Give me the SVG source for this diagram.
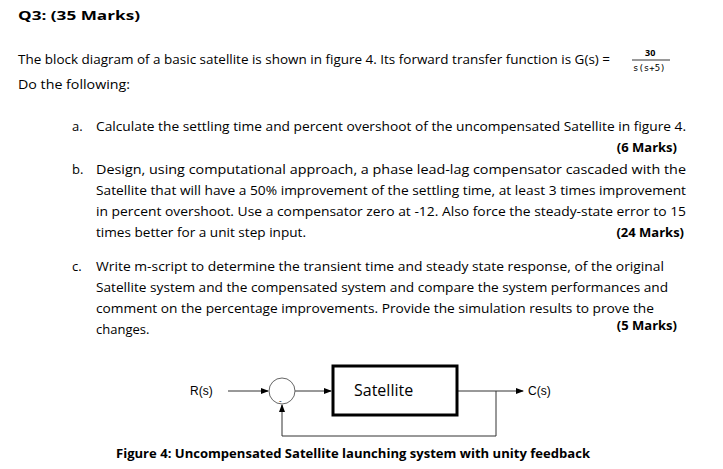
<svg xmlns="http://www.w3.org/2000/svg" width="723" height="469" viewBox="0 0 723 469">
<defs><style>
text{font-family:"Open Sans","Liberation Sans",sans-serif;font-size:13px;fill:#000}
.b{font-weight:bold}
.r{text-anchor:end;font-weight:bold}
.d{font-family:"Liberation Sans",Arial,sans-serif;font-size:12px}
.ln{stroke:#333;stroke-width:1;fill:none}
</style>
<marker id="ar" markerWidth="8" markerHeight="6" refX="7" refY="3" orient="auto" markerUnits="userSpaceOnUse"><path d="M0,0 L8,3 L0,6 z" fill="#000"/></marker>
</defs>
<rect width="723" height="469" fill="#fff"/>
<text x="18" y="20" class="b" textLength="122" lengthAdjust="spacingAndGlyphs">Q3:  (35 Marks)</text>
<text x="18" y="64" textLength="592" lengthAdjust="spacingAndGlyphs">The block diagram of a basic satellite is shown in figure 4. Its forward transfer function is G(s) =</text>
<text x="645" y="56" style="font-size:9px" class="b">30</text>
<line x1="632" y1="60" x2="670" y2="60" stroke="#000" stroke-width="0.8"/>
<text x="633" y="71" style="font-size:9px;font-family:'DejaVu Sans Mono',monospace">s(s+5)</text>
<text x="18" y="89" textLength="112" lengthAdjust="spacingAndGlyphs">Do the following:</text>
<text x="72" y="131">a.</text>
<text x="96" y="131" textLength="590" lengthAdjust="spacingAndGlyphs">Calculate the settling time and percent overshoot of the uncompensated Satellite in figure 4.</text>
<text x="677" y="152" class="r">(6 Marks)</text>
<text x="72" y="174">b.</text>
<text x="96" y="174" textLength="590" lengthAdjust="spacingAndGlyphs">Design, using computational approach, a phase lead-lag compensator cascaded with the</text>
<text x="96" y="195" textLength="590" lengthAdjust="spacingAndGlyphs">Satellite that will have a 50% improvement of the settling time, at least 3 times improvement</text>
<text x="96" y="216" textLength="590" lengthAdjust="spacingAndGlyphs">in percent overshoot. Use a compensator zero at -12.  Also force the steady-state error to 15</text>
<text x="96" y="237" textLength="210" lengthAdjust="spacingAndGlyphs">times better for a unit step input.</text>
<text x="684" y="237" class="r">(24 Marks)</text>
<text x="72" y="271">c.</text>
<text x="96" y="271" textLength="568" lengthAdjust="spacingAndGlyphs">Write m-script to determine the transient time and steady state response, of the original</text>
<text x="96" y="292" textLength="572" lengthAdjust="spacingAndGlyphs">Satellite system and the compensated system and compare the system performances and</text>
<text x="96" y="313" textLength="558" lengthAdjust="spacingAndGlyphs">comment on the percentage improvements. Provide the simulation results to prove the</text>
<text x="96" y="334">changes.</text>
<text x="677" y="330" class="r">(5 Marks)</text>
<g id="connectors">
<line x1="228" y1="391" x2="268" y2="391" class="ln" marker-end="url(#ar)"/>
<line x1="295" y1="391" x2="331" y2="391" class="ln" marker-end="url(#ar)"/>
<polyline points="458,391 523,391" class="ln" marker-end="url(#ar)"/>
<polyline points="496,391 496,436 282,436 282,405" class="ln" marker-end="url(#ar)"/>
</g>
<g id="R"><text x="190" y="395" class="d">R(s)</text></g>
<g id="sum"><circle cx="282" cy="391" r="13" fill="#fff" stroke="#666"/><text x="279" y="403" style="font-size:8px" class="d">-</text></g>
<g id="satellite"><rect x="333" y="366" width="124" height="49" fill="#fff" stroke="#000" stroke-width="3"/><text x="354" y="396" style="font-size:16px">Satellite</text></g>
<g id="C"><text x="528" y="395" class="d">C(s)</text></g>
<text x="116" y="458" class="b" textLength="474" lengthAdjust="spacingAndGlyphs">Figure 4: Uncompensated Satellite launching system with unity feedback</text>
</svg>
